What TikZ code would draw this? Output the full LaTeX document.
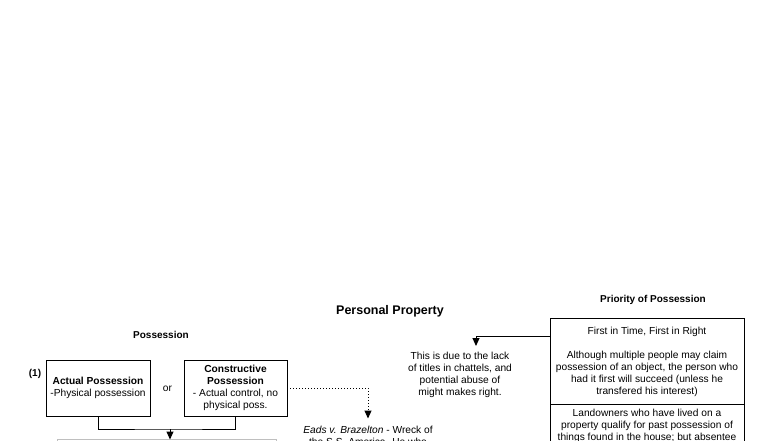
\documentclass[tikz,border=0pt]{standalone}
\usepackage{fontspec}
\setmainfont{Liberation Sans}
\usetikzlibrary{arrows.meta}
\begin{document}
\begin{tikzpicture}[x=1pt,y=-1pt,
  every node/.style={inner sep=0pt, outer sep=0pt},
  txt/.style={font=\fontsize{10.2}{12}\selectfont, align=center},
  ttl/.style={font=\fontsize{10}{12}\selectfont\bfseries},
  box/.style={draw, line width=1pt, txt},
  conn/.style={line width=1pt},
  arr/.style={line width=1pt, -{Triangle[width=7pt,length=8pt]}},
  dots/.style={line width=1pt, dash pattern=on 1pt off 2pt, -{Triangle[width=7pt,length=8pt]}}
]
\useasboundingbox (0,0) rectangle (784,441);
\clip (0,0) rectangle (784,441);

% titles
\node[font=\fontsize{12.5}{15}\selectfont\bfseries] (pp) at (390,311.5) {Personal Property};
\node[ttl] (poss) at (161,334.5) {Possession};
\node[ttl] (prio) at (653,300) {Priority of Possession};
\node[ttl] (one) at (35,373.5) {(1)};

% possession boxes
\node[box, minimum width=104pt, minimum height=56pt] (act) at (98,388)
  {\textbf{Actual Possession}\\-Physical possession};
\node[txt] (or) at (167.5,388.5) {or};
\node[box, minimum width=103pt, minimum height=56pt] (con) at (235.5,388)
  {\textbf{Constructive}\\\textbf{Possession}\\- Actual control, no\\physical poss.};

\coordinate (j) at (170,429);
\draw[conn] (act.south) |- (j) -| (con.south);
\node[draw=black!25, line width=1pt, minimum width=219pt, minimum height=60pt, anchor=north] (gbox) at (166.5,439.5) {};
\draw[arr] (j) -- (j |- gbox.north);

% Eads
\node[txt, anchor=north] (eads) at (368,426)
  {\textit{Eads v. Brazelton} - Wreck of\\the S.S. America. He who};
\coordinate (et) at (368,418.5);
\draw[dots] (con.east) -| (et);

% priority
\node[box, minimum width=194pt, minimum height=86pt] (first) at (647,361.5)
  {First in Time, First in Right\\[12pt]Although multiple people may claim\\possession of an object, the person who\\had it first will succeed (unless he\\transfered his interest)};
\node[draw, line width=1pt, minimum width=194pt, minimum height=60pt, anchor=north] (land) at (first.south) {};
\node[txt, anchor=north] (landt) at ([yshift=-4.5pt]land.north)
  {Landowners who have lived on a\\property qualify for past possession of\\things found in the house; but absentee};

% due to
\node[txt] (due) at (460,375) {This is due to the lack\\of titles in chattels, and\\potential abuse of\\might makes right.};
\coordinate (c) at (476,336);
\draw[arr] (first.west |- c) -- (c) -- (c |- 0,346);
\end{tikzpicture}
\end{document}
